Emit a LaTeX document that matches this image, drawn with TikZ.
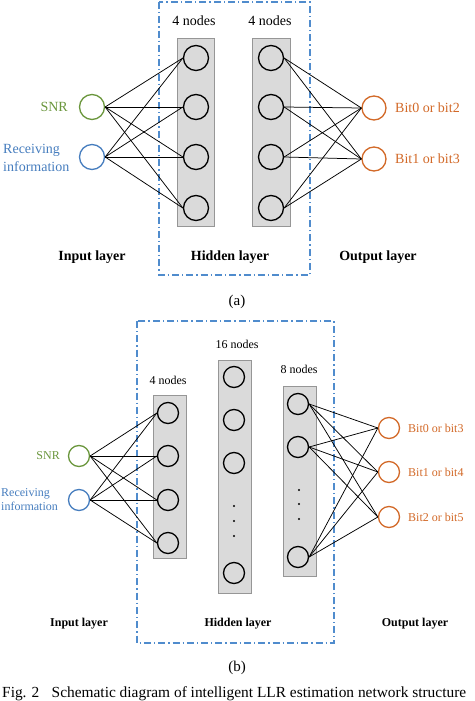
\documentclass[tikz,border=0pt]{standalone}
\usepackage{fontspec}
\setmainfont{Liberation Serif}
\definecolor{cgreen}{RGB}{106,150,60}
\definecolor{cblue}{RGB}{70,125,190}
\definecolor{corange}{RGB}{210,105,40}
\definecolor{cbox}{RGB}{80,140,205}
\definecolor{cfill}{RGB}{218,218,218}
\definecolor{cedge}{RGB}{150,150,150}
\tikzset{
  neuron/.style={circle,draw=black,line width=1.3pt,inner sep=0pt,minimum size=#1},
  neuron/.default=25pt,
  col/.style={draw=cedge,fill=cfill,line width=0.8pt},
  dashbox/.style={draw=cbox,line width=1.5pt,dash pattern=on 7pt off 3pt on 1.3pt off 3pt},
  conn/.style={line width=0.75pt,black},
  lbl/.style={inner sep=0pt},
  fa/.style={font=\fontsize{14}{18}\selectfont},
  fb/.style={font=\fontsize{12}{13.5}\selectfont},
  dotn/.style={circle,fill=black,inner sep=0pt,minimum size=2.4pt},
}
\begin{document}
\begin{tikzpicture}[x=1pt,y=-1pt]
\useasboundingbox (0,0) rectangle (474,701);
% ================= (a) =================
\draw[col] (177,38) rectangle (214,226);
\draw[col] (252,38) rectangle (290,226);
\draw[dashbox] (159,2) rectangle (310,275);
\node[neuron,draw=cgreen] (ai1) at (92,107) {};
\node[neuron,draw=cblue] (ai2) at (92,157) {};
\foreach \k/\y in {1/58,2/107,3/157,4/208}{
  \node[neuron] (ah\k) at (196,\y) {};
  \node[neuron] (ag\k) at (271,\y) {};
}
\node[neuron=24pt,draw=corange] (ao1) at (374,108) {};
\node[neuron=24pt,draw=corange] (ao2) at (374,159) {};
\foreach \i in {1,2}{\foreach \k in {1,2,3,4}{
  \draw[conn] (ai\i.east) -- (ah\k.west);
  \draw[conn] (ag\k.east) -- (ao\i.west);
}}
\node[lbl,fa] (an1) at (194,21) {4 nodes};
\node[lbl,fa] (an2) at (270,21) {4 nodes};
\node[lbl,fa,text=cgreen,anchor=east] (asnr) at (68,107) {SNR};
\node[lbl,fa,text=cblue,anchor=west,align=left] (arec) at (3,158) {Receiving\\information};
\node[lbl,fa,text=corange,anchor=west] (abit0) at (395,108) {Bit0 or bit2};
\node[lbl,fa,text=corange,anchor=west] (abit1) at (395,159) {Bit1 or bit3};
\node[lbl,fa,font=\fontsize{14}{18}\selectfont\bfseries] (ail) at (92,257) {Input layer};
\node[lbl,fa,font=\fontsize{14}{18}\selectfont\bfseries] (ahl) at (230,257) {Hidden layer};
\node[lbl,fa,font=\fontsize{14}{18}\selectfont\bfseries] (aol) at (378,257) {Output layer};
\node[lbl,font=\fontsize{15}{18}\selectfont] (acap) at (237,302) {(a)};
% ================= (b) =================
\draw[col] (153,395) rectangle (186,558);
\draw[col] (218,360) rectangle (251,593);
\draw[col] (283,386) rectangle (316,576);
\draw[dashbox] (137,321) rectangle (334,643);
\node[neuron=21pt,draw=cgreen] (bi1) at (79,456) {};
\node[neuron=21pt,draw=cblue] (bi2) at (79,500) {};
\foreach \k/\y in {1/413,2/456,3/500,4/543}{
  \node[neuron=21pt] (bh\k) at (168,\y) {};
}
\foreach \k/\y in {1/377,2/420,3/463,4/573}{
  \node[neuron=21pt] (bg\k) at (234,\y) {};
}
\foreach \k/\y in {1/506,2/521,3/536}{
  \node[dotn] (bgd\k) at (234,\y) {};
}
\foreach \k/\y in {1/404,2/447,3/557}{
  \node[neuron=21pt] (bf\k) at (298,\y) {};
}
\foreach \k/\y in {1/490,2/504,3/519}{
  \node[dotn] (bfd\k) at (299,\y) {};
}
\foreach \k/\y in {1/428,2/472,3/517}{
  \node[neuron=21pt,draw=corange] (bo\k) at (389,\y) {};
}
\foreach \i in {1,2}{\foreach \k in {1,2,3,4}{
  \draw[conn] (bi\i.east) -- (bh\k.west);
}}
\foreach \i in {1,2,3}{\foreach \k in {1,2,3}{
  \draw[conn] (bf\i.east) -- (bo\k.west);
}}
\node[lbl,fb] (bn1) at (168,380) {4 nodes};
\node[lbl,fb] (bn2) at (237,344) {16 nodes};
\node[lbl,fb] (bn3) at (299,369) {8 nodes};
\node[lbl,fb,text=cgreen,anchor=east] (bsnr) at (60,456) {SNR};
\node[lbl,fb,text=cblue,anchor=west,align=left] (brec) at (1,499.5) {Receiving\\information};
\node[lbl,fb,text=corange,anchor=west] (bbit0) at (408,428) {Bit0 or bit3};
\node[lbl,fb,text=corange,anchor=west] (bbit1) at (408,472) {Bit1 or bit4};
\node[lbl,fb,text=corange,anchor=west] (bbit2) at (408,517) {Bit2 or bit5};
\node[lbl,font=\fontsize{12}{14}\selectfont\bfseries] (bil) at (79,624) {Input layer};
\node[lbl,font=\fontsize{12}{14}\selectfont\bfseries] (bhl) at (238,624) {Hidden layer};
\node[lbl,font=\fontsize{12}{14}\selectfont\bfseries] (bol) at (415,624) {Output layer};
\node[lbl,font=\fontsize{15}{18}\selectfont] (bcap) at (237,668) {(b)};
% caption
\node[lbl,anchor=base west,font=\fontsize{15.4}{17}\selectfont] (fig) at (2,697.5) {Fig. 2\hspace{0.8em}Schematic diagram of intelligent LLR estimation network structure};
\end{tikzpicture}
\end{document}
